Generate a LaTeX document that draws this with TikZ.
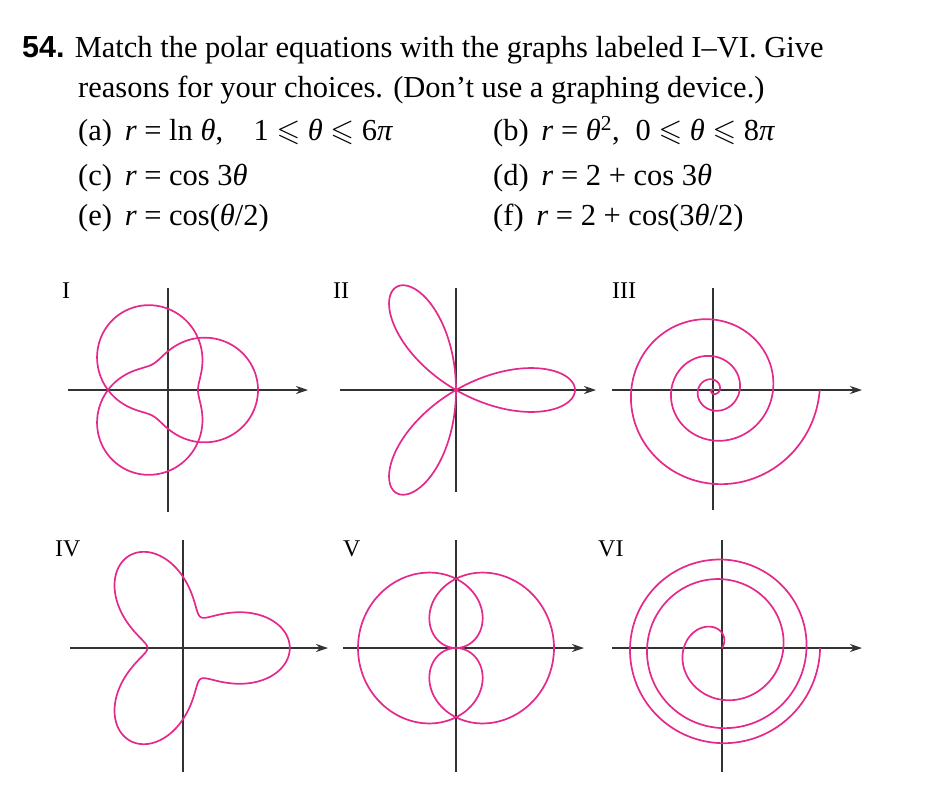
\documentclass[tikz,border=0pt]{standalone}
\usepackage{amsmath,amssymb}
\usepackage{fontspec}
\setmainfont{Liberation Serif}
\usetikzlibrary{arrows.meta}
\definecolor{pk}{RGB}{228,40,140}
\definecolor{axc}{RGB}{50,50,50}
\newcommand\vi[1]{\textit{#1}}
\tikzset{x=1pt,y=-1pt,
 ax/.style={axc,line width=1.1pt,-{Stealth[length=12pt,width=8pt]}},
 vx/.style={axc,line width=1.1pt},
 cv/.style={pk,line width=1.7pt},
 tx/.style={anchor=base west,inner sep=0pt,font=\fontsize{30.5}{36}\selectfont},
 lb/.style={anchor=base west,inner sep=0pt,font=\fontsize{24}{28}\selectfont}}
\begin{document}
\begin{tikzpicture}
\useasboundingbox (0,0) rectangle (937,785);
\node[tx] (l1) at (22,57) {\textbf{\fontspec{Liberation Sans}54.} Match the polar equations with the graphs labeled I–VI. Give};
\node[tx] (l2) at (78,97) {reasons for your choices. (Don’t use a graphing device.)};
\node[tx] (a) at (78,140) {(a)\, \vi{r} = ln \vi{θ},\quad 1 $\leqslant$ \vi{θ} $\leqslant$ 6\vi{π}};
\node[tx] (b) at (493,140) {(b)\, \vi{r} = \vi{θ}\textsuperscript{2},\; 0 $\leqslant$ \vi{θ} $\leqslant$ 8\vi{π}};
\node[tx] (c) at (78,185) {(c)\, \vi{r} = cos 3\vi{θ}};
\node[tx] (d) at (493,185) {(d)\, \vi{r} = 2 + cos 3\vi{θ}};
\node[tx] (e) at (78,225) {(e)\, \vi{r} = cos(\vi{θ}/2)};
\node[tx] (f) at (493,225) {(f)\, \vi{r} = 2 + cos(3\vi{θ}/2)};
% labels
\node[lb] (LI) at (62,298) {I};
\node[lb] (LII) at (333,298) {II};
\node[lb] (LIII) at (612,298) {III};
\node[lb] (LIV) at (55,556) {IV};
\node[lb] (LV) at (343,556) {V};
\node[lb] (LVI) at (598,556) {VI};
% I
\draw[ax] (68,390) -- (308,390); \draw[vx] (168,288) -- (168,512);
\draw[cv] plot[domain=0:720,samples=400,smooth,variable=\t] ({168+30*(2+cos(1.5*\t))*cos(\t)},{390-30*(2+cos(1.5*\t))*sin(\t)});
% II
\draw[ax] (340,390) -- (596,390); \draw[vx] (456,288) -- (456,492);
\draw[cv] plot[domain=0:180,samples=400,smooth,variable=\t] ({456+119*cos(3*\t)*cos(\t)},{390-119*cos(3*\t)*sin(\t)});
% III
\draw[ax] (612,390) -- (862,390); \draw[vx] (713,288) -- (713,510);
\draw[cv] plot[domain=0:25.13,samples=700,smooth,variable=\t] ({713+0.169*\t*\t*cos(deg(\t))},{390-0.169*\t*\t*sin(deg(\t))});
% IV
\draw[ax] (70,648) -- (328,648); \draw[vx] (183,540) -- (183,772);
\draw[cv] plot[domain=0:360,samples=400,smooth,variable=\t] ({183+35.6*(2+cos(3*\t))*cos(\t)},{648-35.6*(2+cos(3*\t))*sin(\t)});
% V
\draw[ax] (343,648) -- (584,648); \draw[vx] (456,540) -- (456,772);
\draw[cv] plot[domain=0:720,samples=400,smooth,variable=\t] ({456+98*cos(\t/2)*cos(\t)},{648-98*cos(\t/2)*sin(\t)});
% VI
\draw[ax] (612,648) -- (862,648); \draw[vx] (722,540) -- (722,772);
\draw[cv] plot[domain=1:18.85,samples=500,smooth,variable=\t] ({722+33.4*ln(\t)*cos(deg(\t))},{648-33.4*ln(\t)*sin(deg(\t))});
\end{tikzpicture}
\end{document}
